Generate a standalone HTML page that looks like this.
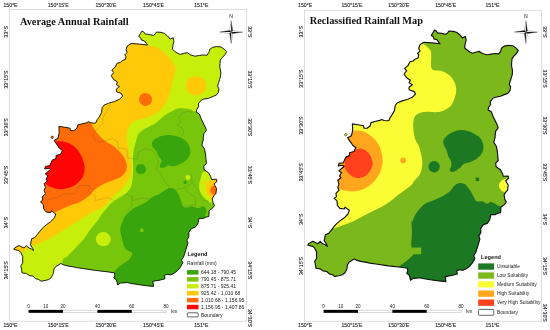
<!DOCTYPE html>
<html lang="en"><head><meta charset="utf-8"><title>Rainfall maps</title>
<style>
html,body{margin:0;padding:0;background:#fff;}
body{width:550px;height:330px;overflow:hidden;}
svg{display:block;}
.tk{font-family:"Liberation Sans","DejaVu Sans",sans-serif;font-size:5.2px;fill:#111;stroke:#111;stroke-width:0.08px;}
.ttl{font-family:"Liberation Serif","DejaVu Serif",serif;font-weight:bold;font-size:10.3px;fill:#111;}
.sb{font-family:"Liberation Sans","DejaVu Sans",sans-serif;font-size:4.6px;fill:#222;}
.lg{font-family:"Liberation Sans","DejaVu Sans",sans-serif;font-size:5px;fill:#1a1a1a;}
.lgt{font-family:"Liberation Sans","DejaVu Sans",sans-serif;font-weight:bold;font-size:5.6px;fill:#111;}
</style></head><body>
<svg width="550" height="330" viewBox="0 0 550 330">
<defs><clipPath id="clipO"><path d="M127.3 46.0 L131.1 43.5 L139.4 44.1 L147.6 45.0 L146.4 43.5 L144.5 40.9 L141.3 40.0 L140.6 37.7 L138.7 36.5 L140.6 33.3 L141.9 31.1 L143.8 32.0 L145.1 33.9 L148.9 34.5 L153.4 35.4 L155.3 33.9 L156.5 32.0 L161.0 32.4 L164.2 33.3 L167.4 35.8 L170.1 39.0 L173.3 37.7 L173.9 41.5 L172.9 45.4 L172.4 49.2 L174.5 51.1 L177.1 53.0 L180.3 54.5 L184.1 53.3 L187.3 52.7 L190.5 54.9 L194.9 56.2 L199.4 55.5 L203.2 54.9 L207.0 55.3 L208.9 52.4 L209.8 49.2 L212.7 47.3 L216.5 46.6 L221.0 46.9 L224.2 49.2 L226.7 51.7 L224.8 54.9 L222.3 57.5 L220.4 60.0 L220.0 63.2 L219.8 67.1 L220.8 72.2 L220.6 76.0 L219.5 79.8 L218.3 83.6 L217.6 86.2 L218.9 88.7 L218.3 92.5 L216.4 95.1 L213.2 96.4 L208.7 98.3 L203.6 99.2 L201.1 100.2 L199.2 102.7 L198.3 103.8 L198.7 106.4 L196.8 109.5 L196.2 112.1 L199.4 114.0 L201.3 119.1 L203.8 124.2 L205.7 128.0 L206.4 130.5 L203.8 133.7 L203.2 138.2 L203.2 140.0 L201.9 145.1 L204.5 148.9 L205.5 154.0 L206.0 159.1 L206.4 163.5 L203.8 166.1 L204.2 169.9 L208.3 172.5 L210.6 176.4 L211.5 179.5 L216.5 179.2 L216.9 181.5 L214.0 184.0 L216.5 188.5 L215.9 193.5 L214.0 195.5 L212.3 198.6 L213.1 203.1 L214.6 205.6 L212.4 208.2 L209.2 210.7 L208.8 216.5 L206.0 217.1 L203.5 218.4 L199.0 218.4 L197.7 224.1 L195.2 227.3 L191.4 228.5 L188.8 232.4 L188.8 236.8 L186.9 240.0 L187.9 243.2 L187.3 245.0 L185.4 251.4 L183.5 257.1 L181.5 260.3 L182.8 262.8 L180.3 267.3 L177.7 270.5 L174.5 273.0 L170.7 274.9 L166.9 274.3 L164.4 275.5 L165.0 278.7 L160.5 280.0 L152.9 281.3 L153.5 286.4 L146.5 285.7 L137.6 284.5 L130.0 283.2 L127.3 282.5 L120.3 283.1 L117.7 285.0 L116.5 279.9 L113.9 278.0 L114.8 275.5 L114.5 272.9 L108.2 271.9 L95.5 270.4 L82.7 268.5 L76.4 267.6 L73.6 266.9 L67.3 265.9 L62.8 264.6 L60.9 263.4 L59.0 264.6 L55.8 266.5 L53.9 269.1 L53.3 273.5 L51.4 277.4 L48.8 279.5 L45.0 280.5 L41.2 281.2 L38.6 279.5 L35.5 278.6 L32.9 276.1 L29.1 275.5 L26.5 273.5 L22.1 272.9 L21.5 269.1 L20.8 265.9 L22.7 262.7 L22.7 256.4 L20.8 252.5 L18.9 250.6 L13.8 249.4 L14.5 248.0 L18.9 245.5 L24.0 248.0 L26.3 245.5 L29.0 248.0 L31.5 249.0 L33.5 250.6 L32.9 248.7 L30.4 244.9 L31.0 242.0 L31.6 238.8 L34.8 237.5 L37.4 234.4 L39.9 231.2 L42.5 228.0 L46.3 224.8 L50.7 221.6 L54.5 217.8 L55.8 214.0 L53.9 212.7 L51.4 210.8 L50.7 212.7 L46.3 212.1 L43.7 208.9 L43.3 204.5 L40.5 201.9 L42.8 200.1 L42.2 196.9 L45.4 193.7 L44.1 190.5 L45.4 187.4 L44.1 183.5 L47.3 181.0 L46.0 179.1 L47.9 175.9 L45.4 174.0 L47.3 172.1 L50.5 169.5 L49.2 168.3 L44.7 168.9 L45.4 166.4 L49.8 165.7 L51.1 162.5 L52.4 160.0 L56.0 158.5 L56.0 155.5 L60.5 154.3 L62.4 150.5 L59.2 147.9 L56.6 144.1 L54.1 140.3 L57.9 138.4 L59.2 132.6 L58.9 126.3 L64.3 127.2 L70.0 128.2 L70.6 130.7 L73.8 130.7 L77.0 128.2 L77.6 125.0 L82.7 123.7 L86.5 122.8 L88.5 121.7 L91.0 122.9 L94.2 123.1 L95.8 122.9 L97.1 119.7 L99.0 117.2 L101.5 112.7 L102.2 107.6 L104.1 105.1 L108.6 103.2 L114.4 101.5 L119.5 99.3 L122.6 96.1 L121.4 93.5 L116.3 91.6 L116.3 89.1 L119.5 86.5 L116.3 84.6 L117.5 82.1 L113.7 79.5 L111.2 75.7 L113.7 72.5 L111.8 70.0 L113.5 68.5 L115.2 67.0 L117.1 63.2 L120.3 62.5 L122.2 60.6 L125.4 59.4 L126.0 56.2 L124.7 54.9 L127.3 52.4 L126.0 49.8 Z"/></clipPath><clipPath id="clipR"><path d="M125.3 44.8 L129.1 42.3 L137.3 42.9 L145.4 43.8 L144.2 42.3 L142.3 39.8 L139.2 38.9 L138.5 36.6 L136.6 35.4 L138.5 32.3 L139.8 30.1 L141.6 31.0 L142.9 32.9 L146.7 33.4 L151.1 34.3 L153.0 32.9 L154.2 31.0 L158.6 31.4 L161.8 32.3 L165.0 34.7 L167.6 37.9 L170.8 36.6 L171.4 40.3 L170.4 44.2 L169.9 47.9 L172.0 49.8 L174.6 51.7 L177.7 53.2 L181.5 52.0 L184.6 51.4 L187.8 53.5 L192.2 54.8 L196.6 54.1 L200.4 53.5 L204.1 53.9 L206.0 51.1 L206.9 47.9 L209.8 46.1 L213.5 45.4 L218.0 45.7 L221.1 47.9 L223.6 50.4 L221.7 53.5 L219.2 56.1 L217.4 58.6 L217.0 61.7 L216.8 65.6 L217.8 70.6 L217.6 74.3 L216.5 78.1 L215.3 81.8 L214.6 84.4 L215.9 86.8 L215.3 90.6 L213.4 93.2 L210.3 94.4 L205.8 96.3 L200.8 97.2 L198.3 98.2 L196.4 100.6 L195.5 101.7 L195.9 104.3 L194.0 107.3 L193.4 109.9 L196.6 111.8 L198.5 116.8 L201.0 121.8 L202.8 125.6 L203.5 128.0 L201.0 131.2 L200.4 135.6 L200.4 137.4 L199.1 142.4 L201.6 146.2 L202.6 151.2 L203.1 156.2 L203.5 160.5 L201.0 163.1 L201.4 166.8 L205.4 169.4 L207.7 173.2 L208.6 176.3 L213.5 176.0 L213.9 178.3 L211.0 180.7 L213.5 185.2 L212.9 190.1 L211.0 192.1 L209.4 195.1 L210.2 199.6 L211.6 202.0 L209.5 204.6 L206.3 207.0 L205.9 212.8 L203.1 213.3 L200.7 214.6 L196.2 214.6 L194.9 220.2 L192.5 223.4 L188.7 224.6 L186.1 228.4 L186.1 232.8 L184.2 235.9 L185.2 239.1 L184.6 240.8 L182.8 247.1 L180.9 252.8 L178.9 255.9 L180.2 258.4 L177.7 262.8 L175.2 266.0 L172.0 268.4 L168.2 270.3 L164.5 269.7 L162.0 270.9 L162.6 274.0 L158.1 275.3 L150.6 276.6 L151.2 281.6 L144.3 280.9 L135.5 279.7 L128.0 278.5 L125.3 277.8 L118.4 278.4 L115.8 280.2 L114.6 275.2 L112.1 273.3 L113.0 270.9 L112.7 268.3 L106.4 267.3 L93.9 265.9 L81.2 264.0 L75.0 263.1 L72.2 262.4 L66.0 261.4 L61.6 260.1 L59.7 259.0 L57.8 260.1 L54.6 262.0 L52.8 264.6 L52.2 268.9 L50.3 272.8 L47.7 274.8 L44.0 275.8 L40.2 276.5 L37.6 274.8 L34.6 273.9 L32.0 271.5 L28.2 270.9 L25.7 268.9 L21.3 268.3 L20.7 264.6 L20.0 261.4 L21.9 258.3 L21.9 252.1 L20.0 248.2 L18.1 246.4 L13.1 245.2 L13.8 243.8 L18.1 241.3 L23.2 243.8 L25.5 241.3 L28.1 243.8 L30.6 244.8 L32.6 246.4 L32.0 244.5 L29.5 240.7 L30.1 237.9 L30.7 234.7 L33.9 233.4 L36.4 230.4 L38.9 227.2 L41.5 224.1 L45.2 220.9 L49.6 217.8 L53.3 214.0 L54.6 210.3 L52.8 209.0 L50.3 207.1 L49.6 209.0 L45.2 208.4 L42.7 205.3 L42.3 200.9 L39.5 198.4 L41.8 196.6 L41.2 193.4 L44.3 190.3 L43.1 187.1 L44.3 184.1 L43.1 180.2 L46.2 177.8 L44.9 175.9 L46.8 172.8 L44.3 170.9 L46.2 169.0 L49.4 166.5 L48.1 165.3 L43.7 165.9 L44.3 163.4 L48.7 162.7 L50.0 159.6 L51.3 157.1 L54.8 155.6 L54.8 152.7 L59.3 151.5 L61.2 147.7 L58.0 145.2 L55.4 141.4 L52.9 137.7 L56.7 135.8 L58.0 130.1 L57.7 123.9 L63.0 124.8 L68.7 125.8 L69.3 128.2 L72.4 128.2 L75.6 125.8 L76.2 122.6 L81.2 121.3 L85.0 120.4 L87.0 119.4 L89.4 120.5 L92.6 120.7 L94.2 120.5 L95.5 117.4 L97.3 114.9 L99.8 110.5 L100.5 105.5 L102.4 103.0 L106.8 101.1 L112.6 99.5 L117.6 97.3 L120.7 94.1 L119.5 91.6 L114.4 89.7 L114.4 87.2 L117.6 84.7 L114.4 82.8 L115.6 80.3 L111.9 77.8 L109.4 74.0 L111.9 70.9 L110.0 68.4 L111.7 66.9 L113.4 65.5 L115.2 61.7 L118.4 61.0 L120.3 59.2 L123.4 58.0 L124.0 54.8 L122.8 53.5 L125.3 51.1 L124.0 48.5 Z"/></clipPath></defs>
<rect width="550" height="330" fill="#fff"/>
<g id="mapL">
<rect x="9.5" y="9.6" width="237.0" height="311.6" fill="#fff" stroke="#cfcfcf" stroke-width="0.7"/>
<text class="tk" x="10.5" y="7.4" text-anchor="middle">150°E</text>
<text class="tk" x="10.5" y="327.3" text-anchor="middle">150°E</text>
<text class="tk" x="58.2" y="7.4" text-anchor="middle">150°15'E</text>
<text class="tk" x="58.2" y="327.3" text-anchor="middle">150°15'E</text>
<text class="tk" x="105.9" y="7.4" text-anchor="middle">150°30'E</text>
<text class="tk" x="105.9" y="327.3" text-anchor="middle">150°30'E</text>
<text class="tk" x="153.6" y="7.4" text-anchor="middle">150°45'E</text>
<text class="tk" x="153.6" y="327.3" text-anchor="middle">150°45'E</text>
<text class="tk" x="201.3" y="7.4" text-anchor="middle">151°E</text>
<text class="tk" x="201.3" y="327.3" text-anchor="middle">151°E</text>
<text class="tk" transform="translate(8.0 31.8) rotate(-90)" text-anchor="middle">33°S</text>
<text class="tk" transform="translate(8.0 79.5) rotate(-90)" text-anchor="middle">33°15'S</text>
<text class="tk" transform="translate(8.0 127.2) rotate(-90)" text-anchor="middle">33°30'S</text>
<text class="tk" transform="translate(8.0 174.9) rotate(-90)" text-anchor="middle">33°45'S</text>
<text class="tk" transform="translate(8.0 222.6) rotate(-90)" text-anchor="middle">34°S</text>
<text class="tk" transform="translate(8.0 270.3) rotate(-90)" text-anchor="middle">34°15'S</text>
<text class="tk" transform="translate(247.8 31.8) rotate(90)" text-anchor="middle">33°S</text>
<text class="tk" transform="translate(247.8 79.5) rotate(90)" text-anchor="middle">33°15'S</text>
<text class="tk" transform="translate(247.8 127.2) rotate(90)" text-anchor="middle">33°30'S</text>
<text class="tk" transform="translate(247.8 174.9) rotate(90)" text-anchor="middle">33°45'S</text>
<text class="tk" transform="translate(247.8 222.6) rotate(90)" text-anchor="middle">34°S</text>
<text class="tk" transform="translate(247.8 270.3) rotate(90)" text-anchor="middle">34°15'S</text>
<text class="tk" transform="translate(247.8 318.0) rotate(90)" text-anchor="middle">34°30'S</text>
<text class="ttl" x="20.0" y="24.6">Average Annual Rainfall</text>
<g clip-path="url(#clipO)">
<rect x="0" y="20" width="250" height="280" fill="#c8ee0c"/>
<path d="M100.0 30.0 C122.5 20.0 127.1 37.5 135.0 40.0 C142.9 42.5 144.1 43.8 147.6 45.0 C151.1 46.2 153.4 46.3 155.9 47.3 C158.4 48.3 160.2 49.5 162.3 51.1 C164.4 52.7 166.8 54.8 168.6 56.8 C170.4 58.8 172.0 61.3 173.1 63.2 C174.2 65.1 174.9 66.4 175.2 68.0 C175.5 69.6 175.3 71.3 175.0 73.0 C174.7 74.7 173.8 76.2 173.2 78.0 C172.6 79.8 171.9 82.0 171.5 84.0 C171.1 86.0 171.0 87.8 170.5 90.0 C170.0 92.2 169.3 94.8 168.5 97.0 C167.7 99.2 166.7 101.2 165.6 103.0 C164.5 104.8 163.3 106.5 162.0 108.0 C160.7 109.5 159.7 110.8 158.0 112.0 C156.3 113.2 154.0 114.5 152.0 115.5 C150.0 116.5 148.3 117.3 146.1 118.0 C143.8 118.7 140.7 119.0 138.5 119.7 C136.3 120.4 134.3 121.1 132.7 122.3 C131.1 123.5 129.8 124.9 128.9 126.7 C128.0 128.5 127.3 130.9 127.0 133.1 C126.7 135.3 126.6 137.6 126.8 140.0 C127.0 142.4 127.8 145.0 128.3 147.6 C128.8 150.2 129.2 152.8 129.6 155.3 C130.0 157.9 130.6 160.4 130.9 162.9 C131.2 165.4 131.6 167.9 131.3 170.5 C131.1 173.1 129.9 176.6 129.4 178.2 C128.9 179.8 129.1 178.6 128.1 180.0 C127.1 181.4 125.3 184.4 123.6 186.4 C121.9 188.4 119.9 190.2 117.9 192.1 C115.9 194.0 113.6 195.6 111.5 197.8 C109.4 200.0 107.8 203.3 105.2 205.4 C102.6 207.5 99.0 208.9 95.9 210.5 C92.8 212.1 89.8 213.4 86.8 215.2 C83.8 217.0 80.7 219.2 77.7 221.1 C74.7 223.0 71.5 224.9 68.6 226.7 C65.7 228.5 63.3 230.2 60.5 232.0 C57.7 233.8 54.9 235.6 52.0 237.2 C49.1 238.8 45.9 240.1 43.1 241.3 C40.4 242.5 37.7 243.6 35.5 244.5 C33.3 245.4 32.2 245.8 30.0 247.0 C27.8 248.2 25.4 250.5 22.1 252.0 C18.8 253.5 13.7 258.0 10.0 256.0 C6.3 254.0 1.7 266.0 0.0 240.0 C-1.7 214.0 -16.7 135.0 0.0 100.0 C16.7 65.0 77.5 40.0 100.0 30.0 Z" fill="#ffc808"/>
<ellipse cx="196.0" cy="85.8" rx="10.2" ry="9.5" fill="#ffc808"/>
<path d="M40.0 112.0 C49.3 94.3 77.8 110.9 86.0 112.0 C94.2 113.1 88.5 116.7 89.3 118.5 C90.1 120.3 90.1 121.2 91.0 123.1 C91.9 124.9 93.2 127.5 94.6 129.6 C96.0 131.7 97.8 134.0 99.6 135.9 C101.4 137.8 102.8 139.2 105.2 140.9 C107.6 142.7 111.5 144.4 114.1 146.4 C116.6 148.4 118.7 150.6 120.5 152.7 C122.3 154.8 123.9 157.0 124.9 159.1 C126.0 161.2 126.7 163.4 126.8 165.5 C126.9 167.6 126.5 169.9 125.5 171.8 C124.5 173.7 122.8 175.4 120.5 176.9 C118.2 178.4 114.5 179.5 111.5 180.8 C108.5 182.1 105.3 183.1 102.6 184.5 C99.8 185.9 97.3 187.5 95.0 189.5 C92.7 191.5 91.1 194.2 88.6 196.3 C86.1 198.4 82.9 200.4 80.0 201.9 C77.1 203.4 74.3 203.8 71.1 205.1 C67.9 206.4 64.0 208.2 60.9 209.5 C57.8 210.8 57.8 211.3 52.6 212.7 C47.5 214.1 32.1 234.8 30.0 218.0 C27.9 201.2 30.7 129.7 40.0 112.0 Z" fill="#ff6c08"/>
<ellipse cx="145.5" cy="99.4" rx="6.5" ry="6.5" fill="#ff6c08"/>
<path d="M40.0 141.0 C43.3 135.2 52.2 141.2 56.0 141.3 C59.8 141.4 60.6 141.0 63.0 141.5 C65.4 142.0 68.4 142.9 70.6 144.1 C72.8 145.3 74.8 146.8 76.4 148.5 C78.0 150.2 79.3 152.4 80.4 154.3 C81.5 156.2 82.3 157.8 83.0 160.0 C83.7 162.2 84.5 165.0 84.6 167.6 C84.7 170.2 84.3 173.1 83.5 175.3 C82.7 177.5 81.4 179.2 79.7 181.0 C78.0 182.8 75.7 184.8 73.4 186.1 C71.1 187.4 68.2 188.1 65.7 188.6 C63.2 189.1 60.6 189.3 58.1 189.0 C55.6 188.7 52.8 187.7 50.5 186.7 C48.2 185.7 46.5 184.7 44.1 182.9 C41.7 181.1 36.7 183.0 36.0 176.0 C35.3 169.0 36.7 146.8 40.0 141.0 Z" fill="#ff0404"/>
<path d="M135.9 142.0 C136.5 140.1 136.7 136.9 137.8 135.0 C138.9 133.1 140.5 131.9 142.3 130.5 C144.1 129.1 146.5 127.9 148.6 126.7 C150.7 125.5 152.3 125.4 155.0 123.5 C157.7 121.6 162.3 117.3 165.0 115.3 C167.7 113.3 169.3 112.6 171.4 111.5 C173.5 110.4 175.6 109.1 177.7 108.6 C179.8 108.1 182.0 108.4 184.1 108.6 C186.2 108.8 188.5 109.0 190.5 109.5 C192.5 110.0 192.1 111.4 196.2 111.8 C200.3 112.2 209.4 105.6 215.0 112.0 C220.6 118.4 227.5 127.0 230.0 150.0 C232.5 173.0 235.0 225.0 230.0 250.0 C225.0 275.0 228.3 291.7 200.0 300.0 C171.7 308.3 83.0 306.2 60.0 300.0 C37.0 293.8 61.0 270.0 62.2 262.7 C63.4 255.4 65.4 258.5 67.3 256.4 C69.2 254.3 71.0 252.7 73.6 250.0 C76.1 247.3 80.1 243.5 82.6 240.5 C85.0 237.5 86.5 234.6 88.3 232.2 C90.1 229.8 91.6 227.9 93.3 225.8 C95.0 223.7 97.0 221.3 98.4 219.4 C99.8 217.5 100.4 215.9 101.6 214.3 C102.8 212.7 104.2 211.5 105.7 209.7 C107.2 207.9 108.6 205.4 110.8 203.5 C113.0 201.6 116.2 200.1 118.7 198.5 C121.2 196.9 123.5 195.8 125.5 194.0 C127.5 192.2 129.4 189.9 130.6 187.6 C131.8 185.3 132.1 182.8 132.5 180.0 C132.9 177.2 133.1 173.6 133.2 170.5 C133.3 167.4 132.9 164.3 132.9 161.6 C132.9 158.8 132.9 156.5 133.2 154.0 C133.5 151.5 134.1 148.4 134.5 146.4 C134.9 144.4 135.3 143.9 135.9 142.0 Z" fill="#78c60c"/>
<ellipse cx="103.3" cy="239.2" rx="7.4" ry="7.1" fill="#c8ee0c"/>
<path d="M169.4 135.0 C172.0 135.1 174.6 135.6 177.0 136.3 C179.4 137.1 182.1 138.1 184.0 139.5 C185.9 140.9 187.4 142.6 188.5 144.5 C189.6 146.4 190.3 148.9 190.4 150.9 C190.5 152.9 189.9 154.9 189.1 156.6 C188.2 158.3 186.9 159.8 185.3 161.1 C183.7 162.4 181.5 163.5 179.5 164.3 C177.5 165.2 175.1 166.0 173.2 166.2 C171.3 166.4 169.5 165.3 168.1 165.5 C166.7 165.7 166.2 167.2 164.9 167.5 C163.6 167.8 161.3 167.9 160.5 167.5 C159.7 167.1 159.6 166.1 159.8 164.9 C160.0 163.7 161.9 162.0 161.7 160.5 C161.5 159.0 159.4 157.6 158.5 156.0 C157.6 154.4 156.9 152.4 156.0 150.9 C155.1 149.4 153.4 148.5 152.8 147.1 C152.2 145.7 151.8 144.0 152.2 142.6 C152.6 141.2 153.8 139.9 155.4 138.8 C157.0 137.7 159.4 136.5 161.7 135.9 C164.0 135.3 166.8 134.9 169.4 135.0 Z" fill="#38a50c"/>
<ellipse cx="140.9" cy="169.2" rx="5.1" ry="5.1" fill="#38a50c"/>
<path d="M122.4 222.0 C123.3 219.8 124.0 217.6 125.5 215.6 C127.0 213.6 129.2 211.5 131.3 209.9 C133.4 208.3 135.9 207.4 138.3 206.1 C140.7 204.8 143.8 203.7 145.9 202.3 C148.0 200.9 148.9 199.1 151.0 197.8 C153.1 196.5 156.3 195.8 158.6 194.6 C160.9 193.3 163.1 191.4 165.0 190.3 C166.9 189.2 168.3 187.9 170.0 187.8 C171.7 187.7 173.8 188.6 175.2 189.7 C176.6 190.8 177.4 192.4 178.4 194.2 C179.4 196.0 180.2 198.6 180.9 200.5 C181.6 202.4 181.9 204.3 182.5 205.5 C183.1 206.7 183.5 207.2 184.4 207.5 C185.3 207.8 186.7 207.5 188.0 207.3 C189.3 207.1 190.3 206.2 192.0 206.3 C193.7 206.5 196.6 208.2 198.4 208.2 C200.2 208.2 201.5 206.2 202.8 206.3 C204.1 206.4 205.4 207.7 206.0 208.8 C206.6 209.9 206.3 211.6 206.4 213.0 C206.5 214.4 202.7 214.2 206.6 217.0 C210.5 219.8 231.1 216.2 230.0 230.0 C228.9 243.8 220.0 288.3 200.0 300.0 C180.0 311.7 124.3 304.5 110.0 300.0 C95.7 295.5 113.4 277.8 114.3 272.9 C115.2 268.0 114.5 271.3 115.2 270.4 C115.9 269.4 117.0 268.4 118.4 267.2 C119.8 266.0 121.7 264.7 123.5 263.4 C125.3 262.1 127.8 260.9 129.2 259.5 C130.6 258.1 131.3 256.4 131.7 255.1 C132.1 253.8 132.5 252.8 131.5 251.9 C130.5 251.0 127.2 250.7 125.9 249.4 C124.6 248.1 124.1 246.4 123.4 244.3 C122.7 242.2 122.0 239.2 121.5 236.6 C121.0 234.0 120.0 231.4 120.2 229.0 C120.4 226.6 121.5 224.2 122.4 222.0 Z" fill="#38a50c"/>
<ellipse cx="141.8" cy="230.3" rx="2.0" ry="2.0" fill="#78c60c"/>
<ellipse cx="187.9" cy="177.5" rx="2.4" ry="2.4" fill="#c8ee0c"/>
<ellipse cx="185.1" cy="182.3" rx="1.7" ry="1.7" fill="#38a50c"/>
<path d="M204.5 171.5 C200.4 172.8 201.5 176.7 200.6 179.0 C199.7 181.3 199.2 183.2 199.1 185.3 C199.0 187.4 199.3 189.7 200.0 191.6 C200.7 193.5 201.8 195.1 203.2 196.7 C204.6 198.3 206.8 200.2 208.3 201.2 C209.8 202.2 209.3 202.7 212.1 202.8 C214.9 202.9 222.8 207.3 225.0 202.0 C227.2 196.7 228.4 176.1 225.0 171.0 C221.6 165.9 208.6 170.2 204.5 171.5 Z" fill="#c8ee0c"/>
<path d="M208.3 181.3 C205.4 181.8 208.0 181.1 207.6 182.0 C207.2 182.9 206.2 184.8 206.0 186.5 C205.8 188.2 205.9 190.6 206.4 192.3 C206.9 194.0 208.0 195.6 208.9 196.7 C209.8 197.8 209.4 198.6 212.1 198.8 C214.8 199.0 222.8 201.3 225.0 198.0 C227.2 194.7 227.8 181.8 225.0 179.0 C222.2 176.2 211.2 180.8 208.3 181.3 Z" fill="#ffc808"/>
<ellipse cx="204.7" cy="182.5" rx="1.3" ry="1.3" fill="#ffc808"/>
<path d="M213.4 186.0 C211.5 186.3 211.3 187.3 210.8 188.0 C210.3 188.7 210.1 189.5 210.2 190.4 C210.3 191.3 210.9 192.8 211.5 193.5 C212.1 194.2 212.2 194.6 214.0 194.8 C215.8 195.1 220.7 196.5 222.0 195.0 C223.3 193.5 223.4 187.5 222.0 186.0 C220.6 184.5 215.3 185.7 213.4 186.0 Z" fill="#ff6c08"/>
</g>
<path d="M192.4 112.1 L187.3 111.5 L181.5 113.4 L179.0 117.8 L180.9 122.3 L177.1 124.8 L182.8 128.6 L184.1 131.8 L181.5 136.3" fill="none" stroke="rgba(70,80,60,0.42)" stroke-width="0.5"/>
<path d="M191.1 173.8 L192.4 182.7 L184.1 187.8 L176.5 189.7" fill="none" stroke="rgba(70,80,60,0.42)" stroke-width="0.5"/>
<path d="M192.4 182.7 L198.1 190.4 L199.4 194.2 L203.2 200.5 L208.9 201.2" fill="none" stroke="rgba(70,80,60,0.42)" stroke-width="0.5"/>
<path d="M184.1 187.8 L190.5 194.2 L195.5 197.4 L195.5 204.4 L182.8 206.9" fill="none" stroke="rgba(70,80,60,0.42)" stroke-width="0.5"/>
<path d="M117.9 142.5 L118.5 147.6 L126.8 149.5 L127.5 157.8 L137.0 159.1 L138.3 152.7 L144.6 148.9 L152.3 150.2 L156.1 155.3 L158.6 161.6 L156.1 169.3 L161.2 174.4 L165.0 182.0 L170.0 187.0" fill="none" stroke="rgba(70,80,60,0.42)" stroke-width="0.5"/>
<path d="M95.0 200.4 L102.6 199.1 L106.5 197.2 L111.5 199.1 L114.1 201.0 L120.5 196.5 L125.5 194.0 L131.9 196.5 L133.2 200.4 L143.4 197.8 L148.5 199.1" fill="none" stroke="rgba(70,80,60,0.42)" stroke-width="0.5"/>
<path d="M131.9 196.5 L131.9 205.5 L126.8 211.8" fill="none" stroke="rgba(70,80,60,0.42)" stroke-width="0.5"/>
<path d="M47.0 200.0 L56.8 197.5 L65.7 193.7 L74.6 193.7 L79.7 185.5 L89.9 185.5 L88.6 191.8 L95.0 195.6 L95.0 200.4" fill="none" stroke="rgba(70,80,60,0.42)" stroke-width="0.5"/>
<path d="M101.2 124.4 L96.1 130.7 L92.9 134.5 L94.8 139.6 L98.6 142.2 L105.0 141.0 L112.4 138.2 L117.9 142.5" fill="none" stroke="rgba(70,80,60,0.42)" stroke-width="0.5"/>
<path d="M110.5 105.1 L106.6 111.5 L102.8 117.8 L102.8 124.2" fill="none" stroke="rgba(70,80,60,0.42)" stroke-width="0.5"/>
<path d="M127.3 46.0 L131.1 43.5 L139.4 44.1 L147.6 45.0 L146.4 43.5 L144.5 40.9 L141.3 40.0 L140.6 37.7 L138.7 36.5 L140.6 33.3 L141.9 31.1 L143.8 32.0 L145.1 33.9 L148.9 34.5 L153.4 35.4 L155.3 33.9 L156.5 32.0 L161.0 32.4 L164.2 33.3 L167.4 35.8 L170.1 39.0 L173.3 37.7 L173.9 41.5 L172.9 45.4 L172.4 49.2 L174.5 51.1 L177.1 53.0 L180.3 54.5 L184.1 53.3 L187.3 52.7 L190.5 54.9 L194.9 56.2 L199.4 55.5 L203.2 54.9 L207.0 55.3 L208.9 52.4 L209.8 49.2 L212.7 47.3 L216.5 46.6 L221.0 46.9 L224.2 49.2 L226.7 51.7 L224.8 54.9 L222.3 57.5 L220.4 60.0 L220.0 63.2 L219.8 67.1 L220.8 72.2 L220.6 76.0 L219.5 79.8 L218.3 83.6 L217.6 86.2 L218.9 88.7 L218.3 92.5 L216.4 95.1 L213.2 96.4 L208.7 98.3 L203.6 99.2 L201.1 100.2 L199.2 102.7 L198.3 103.8 L198.7 106.4 L196.8 109.5 L196.2 112.1 L199.4 114.0 L201.3 119.1 L203.8 124.2 L205.7 128.0 L206.4 130.5 L203.8 133.7 L203.2 138.2 L203.2 140.0 L201.9 145.1 L204.5 148.9 L205.5 154.0 L206.0 159.1 L206.4 163.5 L203.8 166.1 L204.2 169.9 L208.3 172.5 L210.6 176.4 L211.5 179.5 L216.5 179.2 L216.9 181.5 L214.0 184.0 L216.5 188.5 L215.9 193.5 L214.0 195.5 L212.3 198.6 L213.1 203.1 L214.6 205.6 L212.4 208.2 L209.2 210.7 L208.8 216.5 L206.0 217.1 L203.5 218.4 L199.0 218.4 L197.7 224.1 L195.2 227.3 L191.4 228.5 L188.8 232.4 L188.8 236.8 L186.9 240.0 L187.9 243.2 L187.3 245.0 L185.4 251.4 L183.5 257.1 L181.5 260.3 L182.8 262.8 L180.3 267.3 L177.7 270.5 L174.5 273.0 L170.7 274.9 L166.9 274.3 L164.4 275.5 L165.0 278.7 L160.5 280.0 L152.9 281.3 L153.5 286.4 L146.5 285.7 L137.6 284.5 L130.0 283.2 L127.3 282.5 L120.3 283.1 L117.7 285.0 L116.5 279.9 L113.9 278.0 L114.8 275.5 L114.5 272.9 L108.2 271.9 L95.5 270.4 L82.7 268.5 L76.4 267.6 L73.6 266.9 L67.3 265.9 L62.8 264.6 L60.9 263.4 L59.0 264.6 L55.8 266.5 L53.9 269.1 L53.3 273.5 L51.4 277.4 L48.8 279.5 L45.0 280.5 L41.2 281.2 L38.6 279.5 L35.5 278.6 L32.9 276.1 L29.1 275.5 L26.5 273.5 L22.1 272.9 L21.5 269.1 L20.8 265.9 L22.7 262.7 L22.7 256.4 L20.8 252.5 L18.9 250.6 L13.8 249.4 L14.5 248.0 L18.9 245.5 L24.0 248.0 L26.3 245.5 L29.0 248.0 L31.5 249.0 L33.5 250.6 L32.9 248.7 L30.4 244.9 L31.0 242.0 L31.6 238.8 L34.8 237.5 L37.4 234.4 L39.9 231.2 L42.5 228.0 L46.3 224.8 L50.7 221.6 L54.5 217.8 L55.8 214.0 L53.9 212.7 L51.4 210.8 L50.7 212.7 L46.3 212.1 L43.7 208.9 L43.3 204.5 L40.5 201.9 L42.8 200.1 L42.2 196.9 L45.4 193.7 L44.1 190.5 L45.4 187.4 L44.1 183.5 L47.3 181.0 L46.0 179.1 L47.9 175.9 L45.4 174.0 L47.3 172.1 L50.5 169.5 L49.2 168.3 L44.7 168.9 L45.4 166.4 L49.8 165.7 L51.1 162.5 L52.4 160.0 L56.0 158.5 L56.0 155.5 L60.5 154.3 L62.4 150.5 L59.2 147.9 L56.6 144.1 L54.1 140.3 L57.9 138.4 L59.2 132.6 L58.9 126.3 L64.3 127.2 L70.0 128.2 L70.6 130.7 L73.8 130.7 L77.0 128.2 L77.6 125.0 L82.7 123.7 L86.5 122.8 L88.5 121.7 L91.0 122.9 L94.2 123.1 L95.8 122.9 L97.1 119.7 L99.0 117.2 L101.5 112.7 L102.2 107.6 L104.1 105.1 L108.6 103.2 L114.4 101.5 L119.5 99.3 L122.6 96.1 L121.4 93.5 L116.3 91.6 L116.3 89.1 L119.5 86.5 L116.3 84.6 L117.5 82.1 L113.7 79.5 L111.2 75.7 L113.7 72.5 L111.8 70.0 L113.5 68.5 L115.2 67.0 L117.1 63.2 L120.3 62.5 L122.2 60.6 L125.4 59.4 L126.0 56.2 L124.7 54.9 L127.3 52.4 L126.0 49.8 Z" fill="none" stroke="#111" stroke-width="0.95" stroke-linejoin="round"/>
<circle cx="52.2" cy="137.3" r="1.2" fill="#ff6c08" stroke="#111" stroke-width="0.6"/>
<g transform="translate(231.2 32.1)">
<path d="M0 -11.4 L1.5 -1.5 L11.6 0 L1.5 1.5 L0 11.4 L-1.5 1.5 L-11.6 0 L-1.5 -1.5 Z" fill="#fff" stroke="#222" stroke-width="0.3"/>
<path d="M0 -11.4 L0 0 L1.5 -1.5 Z M11.6 0 L0 0 L1.5 1.5 Z M0 11.4 L0 0 L-1.5 1.5 Z M-11.6 0 L0 0 L-1.5 -1.5 Z" fill="#111"/>
<path d="M0 -2.6 L0.9 -0.9 L2.6 0 L0.9 0.9 L0 2.6 L-0.9 0.9 L-2.6 0 L-0.9 -0.9 Z" fill="#333" opacity="0.55" transform="rotate(45)"/>
<text x="0" y="-13.9" text-anchor="middle" font-family="'Liberation Sans',sans-serif" font-size="5.2" fill="#222">N</text>
</g>
<rect x="28.65" y="310.15" width="137.44" height="2.40" fill="#fff" stroke="#b4b4b4" stroke-width="0.5"/>
<rect x="28.65" y="309.90" width="34.36" height="2.90" fill="#000"/>
<rect x="97.37" y="309.90" width="34.36" height="2.90" fill="#000"/>
<text class="sb" x="28.6" y="307.7" text-anchor="middle">0</text>
<text class="sb" x="45.8" y="307.7" text-anchor="middle">10</text>
<text class="sb" x="63.0" y="307.7" text-anchor="middle">20</text>
<text class="sb" x="97.4" y="307.7" text-anchor="middle">40</text>
<text class="sb" x="131.7" y="307.7" text-anchor="middle">60</text>
<text class="sb" x="166.1" y="307.7" text-anchor="middle">80</text>
<text class="sb" x="171.2" y="312.6">km</text>
<text class="lgt" x="187.6" y="256.4">Legend</text>
<text class="lg" style="font-size:5.00px" x="187.0" y="264.5">Rainfall (mm)</text>
<rect x="187.0" y="270.1" width="11.5" height="4.5" fill="#38a50c"/>
<text class="lg" style="font-size:5.00px" x="201.0" y="274.2">644.18 - 790.45</text>
<rect x="187.0" y="277.1" width="11.5" height="4.5" fill="#78c60c"/>
<text class="lg" style="font-size:5.00px" x="201.0" y="281.2">790.45 - 875.71</text>
<rect x="187.0" y="283.9" width="11.5" height="4.5" fill="#c8ee0c"/>
<text class="lg" style="font-size:5.00px" x="201.0" y="288.0">875.71 - 925.41</text>
<rect x="187.0" y="290.9" width="11.5" height="4.5" fill="#ffc808"/>
<text class="lg" style="font-size:5.00px" x="201.0" y="294.9">925.42 - 1,010.68</text>
<rect x="187.0" y="297.9" width="11.5" height="4.5" fill="#ff6c08"/>
<text class="lg" style="font-size:5.00px" x="201.0" y="301.9">1,010.68 - 1,156.95</text>
<rect x="187.0" y="304.8" width="11.5" height="4.5" fill="#ff0404"/>
<text class="lg" style="font-size:5.00px" x="201.0" y="308.8">1,156.95 - 1,407.86</text>
<rect x="187.3" y="312.8" width="10.9" height="4.1" rx="0.9" fill="#fff" stroke="#222" stroke-width="0.7"/>
<text class="lg" style="font-size:5.00px" x="201.0" y="316.6">Boundary</text>
</g>
<g id="mapR" transform="translate(294.7 0)">
<rect x="9.8" y="10.2" width="237.0" height="311.1" fill="#fff" stroke="#cfcfcf" stroke-width="0.7"/>
<text class="tk" x="10.4" y="7.4" text-anchor="middle">150°E</text>
<text class="tk" x="10.4" y="327.3" text-anchor="middle">150°E</text>
<text class="tk" x="57.2" y="7.4" text-anchor="middle">150°15'E</text>
<text class="tk" x="57.2" y="327.3" text-anchor="middle">150°15'E</text>
<text class="tk" x="104.1" y="7.4" text-anchor="middle">150°30'E</text>
<text class="tk" x="104.1" y="327.3" text-anchor="middle">150°30'E</text>
<text class="tk" x="151.0" y="7.4" text-anchor="middle">150°45'E</text>
<text class="tk" x="151.0" y="327.3" text-anchor="middle">150°45'E</text>
<text class="tk" x="197.8" y="7.4" text-anchor="middle">151°E</text>
<text class="tk" x="197.8" y="327.3" text-anchor="middle">151°E</text>
<text class="tk" transform="translate(8.0 31.8) rotate(-90)" text-anchor="middle">33°S</text>
<text class="tk" transform="translate(8.0 78.6) rotate(-90)" text-anchor="middle">33°15'S</text>
<text class="tk" transform="translate(8.0 125.5) rotate(-90)" text-anchor="middle">33°30'S</text>
<text class="tk" transform="translate(8.0 172.3) rotate(-90)" text-anchor="middle">33°45'S</text>
<text class="tk" transform="translate(8.0 219.2) rotate(-90)" text-anchor="middle">34°S</text>
<text class="tk" transform="translate(8.0 266.0) rotate(-90)" text-anchor="middle">34°15'S</text>
<text class="tk" transform="translate(247.8 31.8) rotate(90)" text-anchor="middle">33°S</text>
<text class="tk" transform="translate(247.8 78.6) rotate(90)" text-anchor="middle">33°15'S</text>
<text class="tk" transform="translate(247.8 125.5) rotate(90)" text-anchor="middle">33°30'S</text>
<text class="tk" transform="translate(247.8 172.3) rotate(90)" text-anchor="middle">33°45'S</text>
<text class="tk" transform="translate(247.8 219.2) rotate(90)" text-anchor="middle">34°S</text>
<text class="tk" transform="translate(247.8 266.0) rotate(90)" text-anchor="middle">34°15'S</text>
<text class="tk" transform="translate(247.8 312.8) rotate(90)" text-anchor="middle">34°30'S</text>
<text class="ttl" x="15.0" y="24.0">Reclassified Rainfall Map</text>
<g clip-path="url(#clipR)">
<rect x="0" y="20" width="250" height="280" fill="#7ab81c"/>
<path d="M100.0 30.0 C120.0 23.0 115.2 35.6 120.0 38.0 C124.8 40.4 126.2 42.0 128.8 44.1 C131.4 46.2 134.5 48.2 135.8 50.5 C137.1 52.8 136.4 55.5 136.5 58.1 C136.6 60.7 136.0 64.0 136.3 66.0 C136.6 68.0 136.8 69.2 138.4 70.0 C140.0 70.8 143.4 70.0 146.0 70.8 C148.6 71.6 151.6 73.0 153.7 74.6 C155.8 76.2 157.5 78.4 158.8 80.4 C160.1 82.4 160.9 84.6 161.3 86.7 C161.7 88.8 161.6 91.0 161.3 93.1 C161.0 95.2 160.2 97.4 159.4 99.5 C158.6 101.6 157.8 103.9 156.2 105.7 C154.6 107.5 152.1 109.1 149.8 110.2 C147.5 111.3 144.9 111.8 142.2 112.1 C139.4 112.3 136.1 111.6 133.3 111.7 C130.6 111.8 127.8 112.0 125.7 112.7 C123.6 113.4 121.8 114.4 120.6 115.9 C119.4 117.4 119.0 119.4 118.7 121.6 C118.4 123.8 118.5 126.8 118.7 129.3 C118.9 131.9 119.4 134.8 119.9 136.9 C120.4 139.0 121.0 140.4 121.8 142.0 C122.5 143.6 123.7 144.4 124.4 146.4 C125.2 148.4 125.8 151.5 126.3 154.0 C126.8 156.5 127.5 159.0 127.6 161.6 C127.7 164.2 127.4 167.0 126.9 169.3 C126.4 171.6 125.7 173.7 124.4 175.6 C123.2 177.5 120.7 179.4 119.4 181.0 C118.1 182.6 118.5 183.5 116.8 185.1 C115.1 186.7 111.8 188.9 109.2 190.8 C106.7 192.7 103.6 194.8 101.5 196.5 C99.4 198.2 99.0 199.0 96.4 200.8 C93.9 202.6 89.6 205.4 86.2 207.3 C82.8 209.2 79.4 210.6 76.0 212.3 C72.6 214.0 69.2 215.7 65.8 217.4 C62.4 219.1 59.1 221.0 55.7 222.5 C52.3 224.0 48.5 225.2 45.5 226.3 C42.5 227.4 42.0 227.5 37.8 228.8 C33.5 230.1 26.3 238.8 20.0 234.0 C13.7 229.2 3.3 225.7 0.0 200.0 C-3.3 174.3 -16.7 108.3 0.0 80.0 C16.7 51.7 80.0 37.0 100.0 30.0 Z" fill="#fafc34"/>
<ellipse cx="212.5" cy="185.6" rx="8.3" ry="7.0" fill="#fafc34"/>
<path d="M40.0 131.0 C44.8 122.8 54.5 130.8 58.8 130.7 C63.1 130.6 63.3 130.2 65.8 130.7 C68.2 131.2 71.2 132.5 73.5 133.9 C75.8 135.3 78.0 137.1 79.8 139.0 C81.6 140.9 83.1 143.2 84.3 145.4 C85.5 147.6 86.2 150.1 86.8 152.4 C87.4 154.7 87.8 156.8 87.9 159.0 C88.0 161.2 88.0 163.2 87.5 165.6 C87.0 168.0 86.2 170.8 84.9 173.3 C83.6 175.9 81.9 178.6 79.8 180.9 C77.7 183.2 75.0 185.7 72.2 187.3 C69.5 189.0 66.3 190.1 63.3 190.8 C60.3 191.5 57.1 191.5 54.4 191.3 C51.6 191.1 48.7 190.4 46.8 189.8 C44.9 189.2 45.7 189.5 42.9 187.9 C40.1 186.3 30.5 189.5 30.0 180.0 C29.5 170.5 35.2 139.2 40.0 131.0 Z" fill="#ffa61e"/>
<ellipse cx="108.5" cy="160.4" rx="2.8" ry="2.8" fill="#ffa61e"/>
<path d="M40.0 152.0 C43.4 150.6 55.8 150.4 60.1 149.8 C64.4 149.2 64.0 148.4 65.8 148.5 C67.6 148.6 69.4 149.5 70.9 150.5 C72.4 151.5 73.7 152.7 74.8 154.3 C75.9 155.9 76.8 158.3 77.3 160.0 C77.8 161.7 78.2 162.6 77.9 164.4 C77.6 166.2 76.6 168.8 75.4 170.7 C74.2 172.6 72.7 174.6 70.9 175.8 C69.1 177.0 66.7 177.9 64.6 178.1 C62.5 178.3 60.1 177.7 58.2 176.8 C56.3 175.9 54.5 174.2 53.1 172.6 C51.7 170.9 50.5 168.9 49.9 166.9 C49.3 164.9 51.1 162.0 49.5 160.5 C47.9 159.0 41.6 159.4 40.0 158.0 C38.4 156.6 36.6 153.4 40.0 152.0 Z" fill="#ff421c"/>
<path d="M148.6 141.0 C148.9 139.6 149.8 138.2 151.1 136.9 C152.4 135.6 154.4 134.1 156.2 133.1 C158.0 132.1 159.7 131.2 161.7 130.7 C163.7 130.2 165.9 130.0 168.0 130.1 C170.1 130.2 172.3 130.7 174.4 131.4 C176.5 132.1 178.9 133.3 180.8 134.5 C182.7 135.7 184.5 136.8 185.8 138.4 C187.1 140.0 187.9 142.3 188.4 144.1 C188.9 145.9 188.9 147.5 188.6 149.2 C188.3 150.9 187.6 152.7 186.5 154.3 C185.4 155.9 183.8 157.4 182.0 158.7 C180.2 160.0 177.8 161.1 175.7 161.9 C173.6 162.8 171.1 162.8 169.3 163.8 C167.5 164.8 166.8 166.7 165.1 168.0 C163.3 169.3 160.5 171.4 158.8 171.8 C157.1 172.2 155.2 171.6 154.9 170.5 C154.6 169.4 156.6 167.1 156.8 165.5 C157.0 163.9 156.7 162.5 156.2 161.0 C155.7 159.5 154.4 158.3 153.7 156.5 C153.0 154.7 152.6 152.1 151.8 150.2 C151.1 148.3 149.7 146.6 149.2 145.1 C148.7 143.6 148.3 142.4 148.6 141.0 Z" fill="#1c7822"/>
<ellipse cx="139.4" cy="166.7" rx="5.7" ry="5.7" fill="#1c7822"/>
<path d="M181.0 177.4 L184.4 177.4 L184.4 180.9 L181.0 180.9 Z" fill="#1c7822"/>
<path d="M116.5 220.0 C116.6 219.1 116.8 222.9 117.5 222.0 C118.2 221.1 119.3 216.7 120.7 214.4 C122.1 212.1 124.1 209.8 125.8 208.0 C127.5 206.2 128.7 204.8 130.8 203.5 C132.9 202.2 135.7 201.6 138.5 200.4 C141.3 199.2 144.7 198.0 147.4 196.5 C150.2 195.0 153.1 193.2 155.0 191.5 C156.9 189.8 157.3 187.8 158.8 186.4 C160.3 185.0 162.0 183.5 163.9 183.2 C165.8 182.8 168.8 183.6 170.3 184.3 C171.8 185.0 171.9 186.0 173.0 187.3 C174.1 188.7 175.7 190.7 176.8 192.4 C177.9 194.1 178.6 196.0 179.4 197.5 C180.2 199.0 180.5 200.7 181.9 201.3 C183.3 201.9 186.0 200.9 187.7 201.3 C189.4 201.7 190.7 203.7 192.1 203.8 C193.5 203.9 194.6 202.0 195.9 201.9 C197.2 201.8 198.5 202.6 199.8 203.2 C201.1 203.8 201.1 204.6 203.6 205.7 C206.1 206.8 210.6 205.9 215.0 210.0 C219.4 214.1 232.5 215.0 230.0 230.0 C227.5 245.0 223.7 288.3 200.0 300.0 C176.3 311.7 105.2 304.7 88.0 300.0 C70.8 295.3 94.2 277.7 97.0 272.0 C99.8 266.3 102.7 267.3 104.6 265.9 C106.5 264.5 106.9 264.5 108.4 263.4 C109.9 262.3 111.7 261.1 113.5 259.5 C115.3 257.9 118.3 255.6 119.0 254.0 C119.7 252.4 117.9 251.6 117.5 250.0 C117.1 248.4 116.6 246.4 116.5 244.2 C116.4 241.9 117.0 239.3 117.1 236.5 C117.2 233.7 117.2 230.3 117.1 227.6 C117.0 224.8 116.4 220.9 116.5 220.0 Z" fill="#1c7822"/>
<path d="M117.0 247.6 L126.5 247.6 L126.5 254.2 L117.0 254.2 Z" fill="#7ab81c"/>
</g>
<path d="M125.3 44.8 L129.1 42.3 L137.3 42.9 L145.4 43.8 L144.2 42.3 L142.3 39.8 L139.2 38.9 L138.5 36.6 L136.6 35.4 L138.5 32.3 L139.8 30.1 L141.6 31.0 L142.9 32.9 L146.7 33.4 L151.1 34.3 L153.0 32.9 L154.2 31.0 L158.6 31.4 L161.8 32.3 L165.0 34.7 L167.6 37.9 L170.8 36.6 L171.4 40.3 L170.4 44.2 L169.9 47.9 L172.0 49.8 L174.6 51.7 L177.7 53.2 L181.5 52.0 L184.6 51.4 L187.8 53.5 L192.2 54.8 L196.6 54.1 L200.4 53.5 L204.1 53.9 L206.0 51.1 L206.9 47.9 L209.8 46.1 L213.5 45.4 L218.0 45.7 L221.1 47.9 L223.6 50.4 L221.7 53.5 L219.2 56.1 L217.4 58.6 L217.0 61.7 L216.8 65.6 L217.8 70.6 L217.6 74.3 L216.5 78.1 L215.3 81.8 L214.6 84.4 L215.9 86.8 L215.3 90.6 L213.4 93.2 L210.3 94.4 L205.8 96.3 L200.8 97.2 L198.3 98.2 L196.4 100.6 L195.5 101.7 L195.9 104.3 L194.0 107.3 L193.4 109.9 L196.6 111.8 L198.5 116.8 L201.0 121.8 L202.8 125.6 L203.5 128.0 L201.0 131.2 L200.4 135.6 L200.4 137.4 L199.1 142.4 L201.6 146.2 L202.6 151.2 L203.1 156.2 L203.5 160.5 L201.0 163.1 L201.4 166.8 L205.4 169.4 L207.7 173.2 L208.6 176.3 L213.5 176.0 L213.9 178.3 L211.0 180.7 L213.5 185.2 L212.9 190.1 L211.0 192.1 L209.4 195.1 L210.2 199.6 L211.6 202.0 L209.5 204.6 L206.3 207.0 L205.9 212.8 L203.1 213.3 L200.7 214.6 L196.2 214.6 L194.9 220.2 L192.5 223.4 L188.7 224.6 L186.1 228.4 L186.1 232.8 L184.2 235.9 L185.2 239.1 L184.6 240.8 L182.8 247.1 L180.9 252.8 L178.9 255.9 L180.2 258.4 L177.7 262.8 L175.2 266.0 L172.0 268.4 L168.2 270.3 L164.5 269.7 L162.0 270.9 L162.6 274.0 L158.1 275.3 L150.6 276.6 L151.2 281.6 L144.3 280.9 L135.5 279.7 L128.0 278.5 L125.3 277.8 L118.4 278.4 L115.8 280.2 L114.6 275.2 L112.1 273.3 L113.0 270.9 L112.7 268.3 L106.4 267.3 L93.9 265.9 L81.2 264.0 L75.0 263.1 L72.2 262.4 L66.0 261.4 L61.6 260.1 L59.7 259.0 L57.8 260.1 L54.6 262.0 L52.8 264.6 L52.2 268.9 L50.3 272.8 L47.7 274.8 L44.0 275.8 L40.2 276.5 L37.6 274.8 L34.6 273.9 L32.0 271.5 L28.2 270.9 L25.7 268.9 L21.3 268.3 L20.7 264.6 L20.0 261.4 L21.9 258.3 L21.9 252.1 L20.0 248.2 L18.1 246.4 L13.1 245.2 L13.8 243.8 L18.1 241.3 L23.2 243.8 L25.5 241.3 L28.1 243.8 L30.6 244.8 L32.6 246.4 L32.0 244.5 L29.5 240.7 L30.1 237.9 L30.7 234.7 L33.9 233.4 L36.4 230.4 L38.9 227.2 L41.5 224.1 L45.2 220.9 L49.6 217.8 L53.3 214.0 L54.6 210.3 L52.8 209.0 L50.3 207.1 L49.6 209.0 L45.2 208.4 L42.7 205.3 L42.3 200.9 L39.5 198.4 L41.8 196.6 L41.2 193.4 L44.3 190.3 L43.1 187.1 L44.3 184.1 L43.1 180.2 L46.2 177.8 L44.9 175.9 L46.8 172.8 L44.3 170.9 L46.2 169.0 L49.4 166.5 L48.1 165.3 L43.7 165.9 L44.3 163.4 L48.7 162.7 L50.0 159.6 L51.3 157.1 L54.8 155.6 L54.8 152.7 L59.3 151.5 L61.2 147.7 L58.0 145.2 L55.4 141.4 L52.9 137.7 L56.7 135.8 L58.0 130.1 L57.7 123.9 L63.0 124.8 L68.7 125.8 L69.3 128.2 L72.4 128.2 L75.6 125.8 L76.2 122.6 L81.2 121.3 L85.0 120.4 L87.0 119.4 L89.4 120.5 L92.6 120.7 L94.2 120.5 L95.5 117.4 L97.3 114.9 L99.8 110.5 L100.5 105.5 L102.4 103.0 L106.8 101.1 L112.6 99.5 L117.6 97.3 L120.7 94.1 L119.5 91.6 L114.4 89.7 L114.4 87.2 L117.6 84.7 L114.4 82.8 L115.6 80.3 L111.9 77.8 L109.4 74.0 L111.9 70.9 L110.0 68.4 L111.7 66.9 L113.4 65.5 L115.2 61.7 L118.4 61.0 L120.3 59.2 L123.4 58.0 L124.0 54.8 L122.8 53.5 L125.3 51.1 L124.0 48.5 Z" fill="none" stroke="#111" stroke-width="1.15" stroke-linejoin="round"/>
<circle cx="51.1" cy="134.7" r="1.2" fill="#fafc34" stroke="#111" stroke-width="0.6"/>
<g transform="translate(231.2 32.1)">
<path d="M0 -11.4 L1.5 -1.5 L11.6 0 L1.5 1.5 L0 11.4 L-1.5 1.5 L-11.6 0 L-1.5 -1.5 Z" fill="#fff" stroke="#222" stroke-width="0.3"/>
<path d="M0 -11.4 L0 0 L1.5 -1.5 Z M11.6 0 L0 0 L1.5 1.5 Z M0 11.4 L0 0 L-1.5 1.5 Z M-11.6 0 L0 0 L-1.5 -1.5 Z" fill="#111"/>
<path d="M0 -2.6 L0.9 -0.9 L2.6 0 L0.9 0.9 L0 2.6 L-0.9 0.9 L-2.6 0 L-0.9 -0.9 Z" fill="#333" opacity="0.55" transform="rotate(45)"/>
<text x="0" y="-13.9" text-anchor="middle" font-family="'Liberation Sans',sans-serif" font-size="5.2" fill="#222">N</text>
</g>
<rect x="28.95" y="310.15" width="137.44" height="2.40" fill="#fff" stroke="#b4b4b4" stroke-width="0.5"/>
<rect x="28.95" y="309.90" width="34.36" height="2.90" fill="#000"/>
<rect x="97.67" y="309.90" width="34.36" height="2.90" fill="#000"/>
<text class="sb" x="28.9" y="307.7" text-anchor="middle">0</text>
<text class="sb" x="46.1" y="307.7" text-anchor="middle">10</text>
<text class="sb" x="63.3" y="307.7" text-anchor="middle">20</text>
<text class="sb" x="97.7" y="307.7" text-anchor="middle">40</text>
<text class="sb" x="132.0" y="307.7" text-anchor="middle">60</text>
<text class="sb" x="166.4" y="307.7" text-anchor="middle">80</text>
<text class="sb" x="171.5" y="312.6">km</text>
<text class="lgt" x="186.4" y="258.7">Legend</text>
<rect x="183.5" y="263.4" width="15.9" height="6.3" fill="#1c7822"/>
<text class="lg" style="font-size:4.90px" x="202.2" y="268.3">Unsuitable</text>
<rect x="183.5" y="272.4" width="15.9" height="6.3" fill="#7ab81c"/>
<text class="lg" style="font-size:4.90px" x="202.2" y="277.3">Low Suitability</text>
<rect x="183.5" y="281.2" width="15.9" height="6.3" fill="#fafc34"/>
<text class="lg" style="font-size:4.90px" x="202.2" y="286.2">Medium Suitability</text>
<rect x="183.5" y="290.5" width="15.9" height="6.3" fill="#ffa61e"/>
<text class="lg" style="font-size:4.90px" x="202.2" y="295.4">High Suitability</text>
<rect x="183.5" y="299.5" width="15.9" height="6.3" fill="#ff421c"/>
<text class="lg" style="font-size:4.90px" x="202.2" y="304.4">Very High Suitability</text>
<rect x="183.8" y="309.4" width="15.3" height="5.9" rx="0.9" fill="#fff" stroke="#222" stroke-width="0.7"/>
<text class="lg" style="font-size:4.90px" x="202.2" y="314.2">Boundary</text>
</g>
</svg></body></html>
